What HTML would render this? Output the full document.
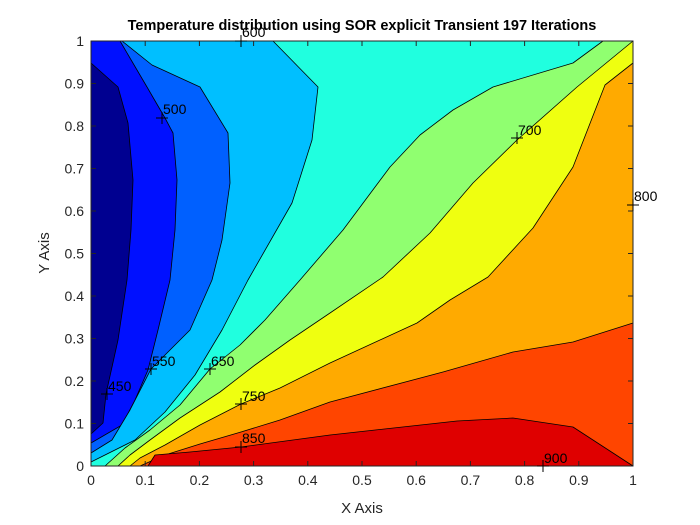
<!DOCTYPE html>
<html><head><meta charset="utf-8"><style>
body{margin:0;background:#fff;}
svg{display:block;font-family:"Liberation Sans",sans-serif;}
</style></head><body>
<svg width="700" height="525" viewBox="0 0 700 525">
<rect width="700" height="525" fill="#fff"/>
<g stroke="#000" stroke-width="0.8" stroke-linejoin="round">
<rect x="91" y="41" width="542" height="425" fill="#000090" stroke="none"/>
<polygon fill="#0010ff" points="91,63 118,87 128,123 133,180 131,230 127,280 118,340 106,394 103,423 91,434 91,466 633,466 633,41 91,41"/>
<polygon fill="#0060ff" points="120,41 147,87 165,118 173,133 177,180 175,230 170,280 158,330 148,370 135,400 122,425 91,443 91,466 633,466 633,41"/>
<polygon fill="#00bfff" points="122,41 152,65 200,87 228,133 230,183 222,240 212,280 190,330 151,369 130,410 112,440 91,453 91,466 633,466 633,41"/>
<polygon fill="#20ffdf" points="273,41 318,87 312,140 292,203 248,280 222,330 195,375 165,412 135,440 91,462 91,466 633,466 633,41"/>
<polygon fill="#90ff70" points="603,41 573,63 493,87 453,110 420,135 390,167 343,230 300,280 265,320 240,345 210,369 180,405 150,430 125,448 105,466 633,466 633,41"/>
<polygon fill="#efff10" points="633,41 577,87 517,140 473,183 430,233 383,277 330,313 290,340 255,365 220,392 180,418 150,440 130,455 118,466 633,466"/>
<polygon fill="#ffaa00" points="633,63 605,85 573,167 533,228 488,277 450,300 417,323 330,363 280,388 241,404 200,425 165,445 140,458 130,466 633,466"/>
<polygon fill="#ff4500" points="633,323 573,342 513,352 443,372 330,402 280,420 241,432 200,444 165,455 140,466 633,466"/>
<polygon fill="#df0000" points="633,466 573,427 513,418 457,421 330,435 241,447 190,452 155,455 148,466"/>
</g>
<rect x="91" y="41" width="542" height="425" fill="none" stroke="#262626" stroke-width="1"/>
<g stroke="#262626" stroke-width="1">
<path d="M91,466v-5M145.2,466v-5M199.4,466v-5M253.6,466v-5M307.8,466v-5M362,466v-5M416.2,466v-5M470.4,466v-5M524.6,466v-5M578.8,466v-5M633,466v-5"/>
<path d="M91,41v5M145.2,41v5M199.4,41v5M253.6,41v5M307.8,41v5M362,41v5M416.2,41v5M470.4,41v5M524.6,41v5M578.8,41v5M633,41v5"/>
<path d="M91,466h5M91,423.5h5M91,381h5M91,338.5h5M91,296h5M91,253.5h5M91,211h5M91,168.5h5M91,126h5M91,83.5h5M91,41h5"/>
<path d="M633,466h-5M633,423.5h-5M633,381h-5M633,338.5h-5M633,296h-5M633,253.5h-5M633,211h-5M633,168.5h-5M633,126h-5M633,83.5h-5M633,41h-5"/>
</g>
<g stroke="#000" stroke-width="1">
<path d="M156,118h12M162,112v12M101,394h12M107,388v12M145,369h12M151,363v12M204,369h12M210,363v12M235,404h12M241,398v12M235,447h12M241,441v12M511,138h12M517,132v12M627,205h12M633,199v12M537,466h12M543,460v12M235,41h12M241,35v12"/>
</g>
<g font-size="14" fill="#000">
<text x="163" y="114">500</text>
<text x="108" y="391">450</text>
<text x="152" y="366">550</text>
<text x="211" y="366">650</text>
<text x="242" y="401">750</text>
<text x="242" y="443">850</text>
<text x="518" y="135">700</text>
<text x="634" y="201">800</text>
<text x="544" y="463">900</text>
<text x="242" y="37">600</text>
</g>
<g font-size="14" fill="#262626" text-anchor="middle">
<text x="91" y="485">0</text><text x="145.2" y="485">0.1</text><text x="199.4" y="485">0.2</text><text x="253.6" y="485">0.3</text><text x="307.8" y="485">0.4</text><text x="362" y="485">0.5</text><text x="416.2" y="485">0.6</text><text x="470.4" y="485">0.7</text><text x="524.6" y="485">0.8</text><text x="578.8" y="485">0.9</text><text x="633" y="485">1</text>
</g>
<g font-size="14" fill="#262626" text-anchor="end">
<text x="84" y="471">0</text><text x="84" y="428.5">0.1</text><text x="84" y="386">0.2</text><text x="84" y="343.5">0.3</text><text x="84" y="301">0.4</text><text x="84" y="258.5">0.5</text><text x="84" y="216">0.6</text><text x="84" y="173.5">0.7</text><text x="84" y="131">0.8</text><text x="84" y="88.5">0.9</text><text x="84" y="46">1</text>
</g>
<text x="362" y="513" font-size="15" fill="#262626" text-anchor="middle">X Axis</text>
<text x="0" y="0" font-size="15" fill="#262626" text-anchor="middle" transform="translate(49,253) rotate(-90)">Y Axis</text>
<text x="362" y="30" font-size="14.5" font-weight="bold" fill="#000" text-anchor="middle">Temperature distribution using SOR explicit Transient 197 Iterations</text>
</svg>
</body></html>
